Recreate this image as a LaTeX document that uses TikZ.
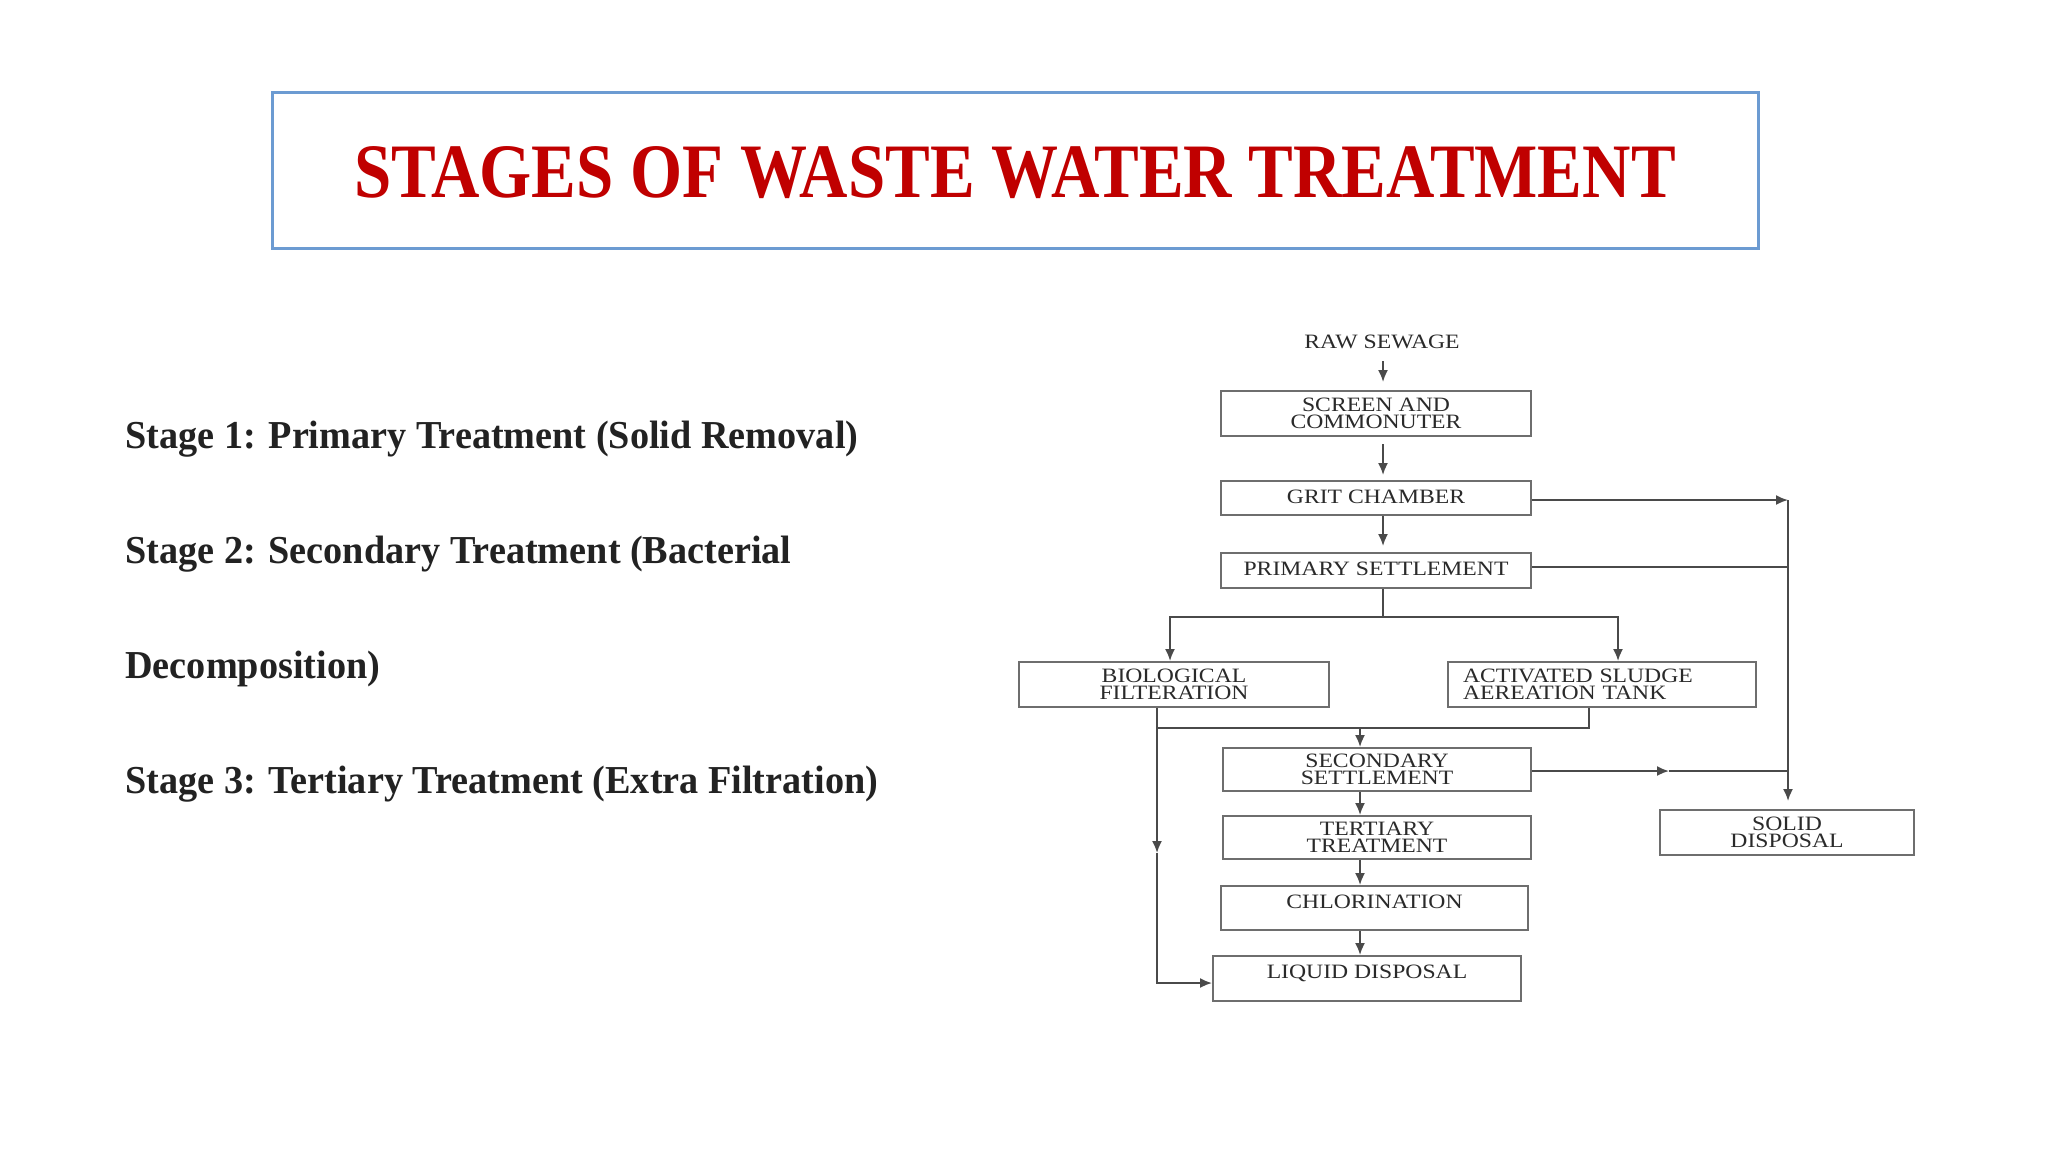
\documentclass[tikz,border=0pt]{standalone}
\usepackage{fontspec}
\setmainfont{Liberation Serif}
\newfontfamily\titlefont{Liberation Serif}[FakeStretch=0.87]
\newfontfamily\stagefont{Liberation Serif}[FakeStretch=0.965]
\newfontfamily\boxfont{Liberation Serif}[FakeStretch=1.16]
\usetikzlibrary{arrows.meta}
\definecolor{titlered}{HTML}{C00000}
\definecolor{titleblue}{HTML}{6C9BD2}
\definecolor{boxgray}{HTML}{6E6E6E}
\definecolor{linegray}{HTML}{4A4A4A}
\definecolor{txtgray}{HTML}{2A2A2A}
\definecolor{stagegray}{HTML}{222222}
\begin{document}
\begin{tikzpicture}[x=0.5pt,y=-0.5pt,
  box/.style={draw=boxgray, line width=1pt, inner sep=0pt, align=center,
    font=\boxfont\fontsize{10.2}{8.7}\selectfont, text=txtgray},
  one/.style={text height=6.8pt, text depth=0pt},
  conn/.style={draw=linegray, line width=0.9pt},
  arr/.style={conn, -{Latex[length=6pt,width=5pt]}},
  stage/.style={anchor=base west, inner sep=0pt, text=stagegray,
    font=\stagefont\bfseries\fontsize{19.8}{22}\selectfont}]
\useasboundingbox[fill=white] (0,0) rectangle (2048,1152);

% title
\node[draw=titleblue, line width=1.5pt, minimum width=743pt, minimum height=78pt, inner sep=0pt] (titlebox) at (1015,170) {};
\node[text=titlered, font=\titlefont\bfseries\fontsize{38.5}{40}\selectfont, inner sep=0pt] (title) at (1015,173) {STAGES OF WASTE WATER TREATMENT};

% left text
\node[stage] (s1) at (125,448) {Stage 1: Primary Treatment (Solid Removal)};
\node[stage] (s2) at (125,563) {Stage 2: Secondary Treatment (Bacterial};
\node[stage] (s2b) at (125,678) {Decomposition)};
\node[stage] (s3) at (125,793) {Stage 3: Tertiary Treatment (Extra Filtration)};

% flowchart nodes
\node[inner sep=0pt, font=\boxfont\fontsize{10.2}{8.7}\selectfont, text=txtgray, one] (raw) at (1382,342) {RAW SEWAGE};
\node[box, minimum width=155pt, minimum height=22.5pt] (screen) at (1376,413.5) {SCREEN AND\\COMMONUTER};
\node[box, one, text depth=1.5pt, minimum width=155pt, minimum height=17pt] (grit) at (1376,498) {GRIT CHAMBER};
\node[box, one, text depth=1.5pt, minimum width=155pt, minimum height=17.5pt] (prim) at (1376,570.5) {PRIMARY SETTLEMENT};
\node[box, minimum width=155pt, minimum height=22.5pt] (bio) at (1174,684.5) {BIOLOGICAL\\FILTERATION};
\node[box, align=left, text width=139pt, inner xsep=7.5pt, minimum height=22.5pt] (asat) at (1602,684.5) {ACTIVATED SLUDGE\\AEREATION TANK};
\node[box, minimum width=154pt, minimum height=21.5pt] (sec) at (1377,769.5) {SECONDARY\\SETTLEMENT};
\node[box, minimum width=154pt, minimum height=21.5pt] (ter) at (1377,837.5) {TERTIARY\\TREATMENT};
\node[box, one, text depth=6.5pt, minimum width=153.5pt, minimum height=22pt] (chl) at (1374.5,908) {CHLORINATION};
\node[box, one, text depth=6.5pt, minimum width=154pt, minimum height=22.5pt] (liq) at (1367,978.5) {LIQUID DISPOSAL};
\node[box, minimum width=127pt, minimum height=22.5pt] (sol) at (1787,832.5) {SOLID\\DISPOSAL};

% helper coordinates
\coordinate (sp) at (1383,0);
\coordinate (sp2) at (1360,0);
\coordinate (split) at (1383,617);
\coordinate (bl) at (1170,617);
\coordinate (br) at (1618,617);
\coordinate (aj) at (1589,728);
\coordinate (jl) at (1157,728);
\coordinate (sx) at (1360,728);
\coordinate (bm) at (1157,853);
\coordinate (lc) at (1157,983);
\coordinate (rv) at (1788,0);
\coordinate (gr) at (1788,500);
\coordinate (pr) at (1788,567);
\coordinate (sm) at (1669,771);
\coordinate (srr) at (1788,771);

% main spine
\draw[arr, shorten <=6pt, shorten >=4pt] (raw.south -| sp) -- (screen.north -| sp);
\draw[arr, shorten <=3.5pt, shorten >=2.5pt] (screen.south -| sp) -- (grit.north -| sp);
\draw[arr, shorten >=3pt] (grit.south -| sp) -- (prim.north -| sp);
\draw[conn] (prim.south -| sp) -- (split);
\draw[arr] (split) -- (bl) -- (bl |- bio.north);
\draw[arr] (split) -- (br) -- (br |- asat.north);

% secondary branch
\draw[conn] (asat.south -| aj) -- (aj) -- (jl);
\draw[arr] (sx) -- (sec.north -| sx);
\draw[arr] (sec.south -| sp2) -- (ter.north -| sp2);
\draw[arr] (ter.south -| sp2) -- (chl.north -| sp2);
\draw[arr] (chl.south -| sp2) -- (liq.north -| sp2);

% biological bypass
\draw[arr] (bio.south -| jl) -- (bm);
\draw[arr] (bm) -- (lc) -- (liq.west |- lc);

% solids line
\draw[arr] (grit.east |- gr) -- (gr);
\draw[conn] (prim.east |- pr) -- (pr);
\draw[arr] (sec.east |- sm) -- (sm);
\draw[conn] (sm) -- (srr);
\draw[arr, shorten >=4pt] (gr) -- (sol.north -| rv);
\end{tikzpicture}
\end{document}
